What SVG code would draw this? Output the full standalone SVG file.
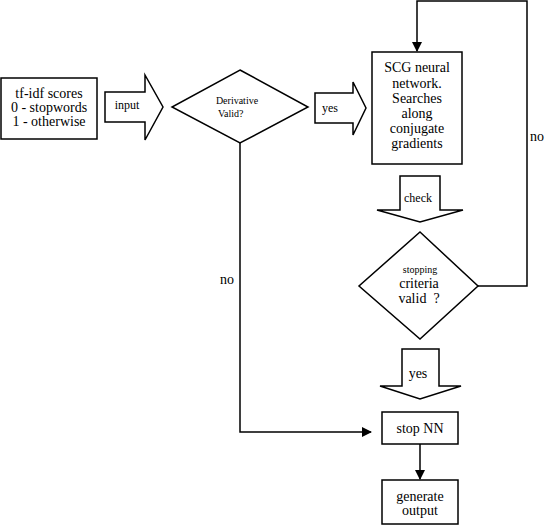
<svg xmlns="http://www.w3.org/2000/svg" width="545" height="525" viewBox="0 0 545 525">
<defs>
<style>
.s{fill:#fff;stroke:#000;stroke-width:1.5}
.c{fill:none;stroke:#000;stroke-width:1.5}
text{font-family:'Liberation Serif',serif;fill:#000;text-anchor:middle}
.t14{font-size:14px}
.t12{font-size:12px}
.t10{font-size:10px}
</style>
<marker id="ah" markerWidth="10" markerHeight="10" refX="9" refY="5" orient="auto" markerUnits="userSpaceOnUse">
<path d="M0,0 L10,5 L0,10 z" fill="#000"/>
</marker>
</defs>
<rect width="545" height="525" fill="#fff"/>
<g font-family="Liberation Serif, serif">
<g id="connectors">
<polyline class="c" points="240,143 240,432 371,432" marker-end="url(#ah)"/>
<polyline class="c" points="478,286 527,286 527,1 417,1 417,51" marker-end="url(#ah)"/>
<line class="c" x1="420" y1="444" x2="420" y2="479" marker-end="url(#ah)"/>
<text class="t14" x="227" y="284">no</text>
<text class="t14" x="537" y="141">no</text>
</g>
<g id="tfidf">
<rect class="s" x="1" y="78" width="96" height="61"/>
<text class="t14" x="49" y="98">tf-idf scores</text>
<text class="t14" x="49" y="112">0 - stopwords</text>
<text class="t14" x="49" y="126">1 - otherwise</text>
</g>
<g id="input-arrow">
<polygon class="s" points="105,92 145,92 145,75 163,107 145,140 145,122 105,122"/>
<text class="t12" x="127" y="109">input</text>
</g>
<g id="derivative">
<polygon class="s" points="240,70 308,107 240,143 172,107"/>
<text class="t10" x="237" y="104">Derivative</text>
<text class="t10" x="218" y="117" style="text-anchor:start">Valid?</text>
</g>
<g id="yes-arrow">
<polygon class="s" points="315,93 353,93 353,82 366,108 353,135 353,123 315,123"/>
<text class="t12" x="330" y="112">yes</text>
</g>
<g id="scg">
<rect class="s" x="372" y="52" width="90" height="112"/>
<text class="t14" x="417" y="72">SCG neural</text>
<text class="t14" x="417" y="88">network.</text>
<text class="t14" x="417" y="103">Searches</text>
<text class="t14" x="417" y="118">along</text>
<text class="t14" x="417" y="133">conjugate</text>
<text class="t14" x="417" y="148">gradients</text>
</g>
<g id="check-arrow">
<polygon class="s" points="400,176 440,176 440,210 463,210 420,222 377,210 400,210"/>
<text class="t12" x="418" y="202">check</text>
</g>
<g id="stopping">
<polygon class="s" points="420,232 478,286 420,339 359,286"/>
<text class="t10" x="420" y="273">stopping</text>
<text class="t14" x="419" y="288">criteria</text>
<text class="t14" x="419" y="303" style="white-space:pre">valid  ?</text>
</g>
<g id="yes-arrow2">
<polygon class="s" points="402,349 439,349 439,386 461,386 420,399 380,386 402,386"/>
<text class="t14" x="418" y="378">yes</text>
</g>
<g id="stopnn">
<rect class="s" x="382" y="412" width="76" height="32"/>
<text class="t14" x="420" y="433">stop NN</text>
</g>
<g id="generate">
<rect class="s" x="382" y="480" width="76" height="44"/>
<text class="t14" x="420" y="501">generate</text>
<text class="t14" x="420" y="515">output</text>
</g>
</g>
</svg>
